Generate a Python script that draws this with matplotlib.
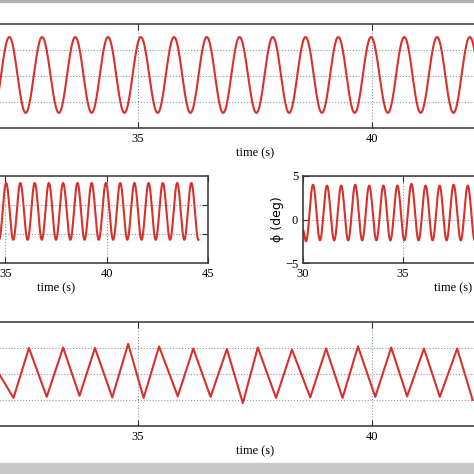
import numpy as np
import matplotlib.pyplot as plt

plt.rcParams['font.family'] = ['Liberation Serif', 'DejaVu Serif']

RED = '#d9302c'

# extrema: (time, value)
top_t = [30.0, 31.55, 31.90, 32.25, 32.60, 32.95, 33.31, 33.66, 34.01, 34.36, 34.71,
         35.06, 35.42, 35.77, 36.12, 36.47, 36.82, 37.17, 37.53, 37.88, 38.23,
         38.58, 38.93, 39.28, 39.63, 39.98, 40.34, 40.69, 41.04, 41.39, 41.74,
         42.09, 42.45, 42.80]
top_v = [0.0, 7.5, -7.1, 7.5, -7.1, 7.5, -7.1, 7.5, -7.1, 7.5, -7.1,
         7.5, -7.1, 7.5, -7.1, 7.5, -7.1, 7.5, -7.1, 7.5, -7.1,
         7.5, -7.1, 7.5, -7.1, 7.5, -7.1, 7.5, -7.1, 7.5, -7.1,
         7.5, -7.1, 7.5]

ml_t = [30.0, 31.53, 31.88, 32.23, 32.58, 32.94, 33.29, 33.64, 33.99, 34.34, 34.69,
        35.04, 35.39, 35.74, 36.10, 36.45, 36.80, 37.15, 37.50, 37.85, 38.21,
        38.56, 38.91, 39.26, 39.61, 39.96, 40.32, 40.67, 41.02, 41.37, 41.72,
        42.07, 42.42, 42.77, 43.13, 43.48, 43.83, 44.18, 44.53]
ml_v = [3.0, 8.8, -1.0, 8.8, -1.0, 8.8, -1.0, 8.8, -1.0, 8.8, -1.0,
        8.8, -1.0, 8.8, -1.0, 8.8, -1.0, 8.8, -1.0, 8.8, -1.0,
        8.8, -1.0, 8.8, -1.0, 8.8, -1.0, 8.8, -1.0, 8.8, -1.0,
        8.8, -1.0, 8.8, -1.0, 8.8, -1.0, 8.8, -1.0]

mr_t = [30.0, 30.15, 30.50, 30.85, 31.20, 31.56, 31.91, 32.26, 32.61, 32.96, 33.31,
        33.67, 34.02, 34.37, 34.72, 35.07, 35.42, 35.78, 36.13, 36.48, 36.83,
        37.18, 37.53, 37.89, 38.24, 38.59, 38.94, 39.29, 39.64, 40.00, 40.35,
        40.70, 41.05, 41.40, 41.75, 42.11, 42.46, 42.81, 43.16, 43.51, 43.86,
        44.22, 44.56]
mr_v = [-1.2, -2.5, 4.0, -2.4, 3.9, -2.4, 3.9, -2.4, 4.0, -2.4, 3.9,
        -2.4, 3.9, -2.4, 3.9, -2.4, 4.1, -2.4, 3.9, -2.4, 3.9,
        -2.4, 4.0, -2.4, 3.9, -2.4, 3.9, -2.4, 4.0, -2.4, 3.9,
        -2.4, 4.0, -2.4, 3.9, -2.4, 3.9, -2.4, 4.0, -2.4, 3.9,
        -2.4, 4.0]

bot_t = [31.9, 32.34, 32.67, 33.05, 33.40, 33.75, 34.08, 34.45, 34.79, 35.12,
         35.45, 35.85, 36.18, 36.55, 36.90, 37.24, 37.56, 37.95, 38.29, 38.68,
         39.02, 39.37, 39.70, 40.07, 40.41, 40.75, 41.11, 41.45, 41.82, 42.15]
bot_v = [2.0, -4.6, 5.0, -4.4, 5.1, -4.2, 5.0, -4.5, 5.8, -4.6,
         5.3, -4.3, 4.9, -4.4, 4.8, -5.6, 5.1, -4.6, 4.7, -4.5,
         4.9, -4.6, 5.3, -4.4, 5.1, -4.3, 4.9, -4.4, 4.9, -5.0]


def smooth(ts, vs, n=24):
    xs, ys = [], []
    for i in range(len(ts) - 1):
        u = np.linspace(0, 1, n, endpoint=False)
        xs.append(ts[i] + (ts[i + 1] - ts[i]) * u)
        ys.append(vs[i] + (vs[i + 1] - vs[i]) * (1 - np.cos(np.pi * u)) / 2)
    xs.append([ts[-1]]); ys.append([vs[-1]])
    return np.concatenate(xs), np.concatenate(ys)


W = H = 474.0
fig = plt.figure(figsize=(4.74, 4.74), dpi=100)


def ax_px(x0, y0, x1, y1):
    return fig.add_axes([x0 / W, 1 - y1 / H, (x1 - x0) / W, (y1 - y0) / H])


def style(ax, xticks, yticks, ylim, left_labels=False):
    ax.set_xlim(30, 45)
    ax.set_ylim(*ylim)
    ax.set_xticks(xticks)
    ax.set_yticks(yticks)
    ax.grid(True, linestyle=':', color='#8a98a8', linewidth=0.8)
    ax.tick_params(direction='in', top=True, right=True, labelsize=9, length=4,
                   color='#333333', labelleft=left_labels)
    for s in ax.spines.values():
        s.set_linewidth(1.1)
        s.set_color('#333333')
    ax.set_xlabel('time (s)', fontsize=9, labelpad=2)


ax1 = ax_px(-96, 24, 606, 128)
x, y = smooth(top_t, top_v)
ax1.plot(x, y, color=RED, lw=1.5)
style(ax1, [35, 40], [-5, 0, 5], (-10, 10))

ax2 = ax_px(-96, 176, 208, 263)
x, y = smooth(ml_t, ml_v)
ax2.plot(x, y, color=RED, lw=1.5)
style(ax2, [35, 40, 45], [0, 5], (-5, 10))

ax3 = ax_px(303, 176, 603, 263)
x, y = smooth(mr_t, mr_v)
ax3.plot(x, y, color=RED, lw=1.5)
style(ax3, [30, 35], [-5, 0, 5], (-5, 5), left_labels=True)
ax3.set_ylabel('ϕ (deg)', fontsize=9, family=['DejaVu Sans'], labelpad=1)

ax4 = ax_px(-96, 322, 606, 426)
ax4.plot(bot_t, bot_v, color=RED, lw=1.5)
style(ax4, [35, 40], [-5, 0, 5], (-10, 10))

# border strips of the cropped page
fig.patches.append(plt.Rectangle((0, 1 - 2 / H), 1, 2 / H, transform=fig.transFigure,
                                 color='#b0b0b0', zorder=10))
fig.patches.append(plt.Rectangle((0, 0), 1, 11 / H, transform=fig.transFigure,
                                 color='#c8c8c8', zorder=10))

fig.savefig('out.png', dpi=100)
